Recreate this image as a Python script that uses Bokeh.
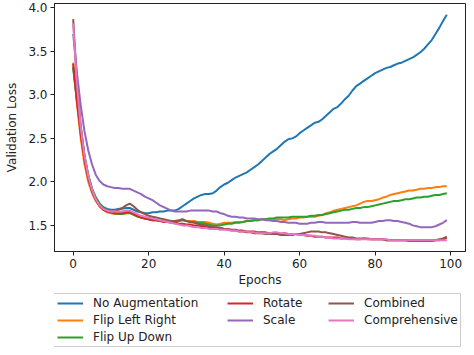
from bokeh.plotting import figure
from bokeh.layouts import column
from bokeh.models import Legend, LegendItem, FixedTicker, Range1d, NumeralTickFormatter
from bokeh.embed import file_html
from bokeh.resources import INLINE

epochs = list(range(100))

no_aug = [3.31, 2.92, 2.58, 2.28, 2.07, 1.92, 1.82, 1.75, 1.71, 1.69, 1.68,
          1.68, 1.69, 1.69, 1.70, 1.70, 1.68, 1.66, 1.65, 1.64, 1.64,
          1.65, 1.65, 1.66, 1.66, 1.67, 1.67, 1.67, 1.69, 1.72, 1.75,
          1.78, 1.81, 1.83, 1.85, 1.86, 1.86, 1.87, 1.90, 1.94, 1.97,
          1.99, 2.02, 2.05, 2.07, 2.09, 2.11, 2.14, 2.17, 2.20, 2.24,
          2.28, 2.32, 2.35, 2.38, 2.42, 2.46, 2.49, 2.50, 2.52, 2.56,
          2.59, 2.62, 2.65, 2.68, 2.69, 2.72, 2.76, 2.80, 2.84, 2.86,
          2.90, 2.95, 2.99, 3.05, 3.10, 3.13, 3.16, 3.19, 3.22, 3.25,
          3.27, 3.29, 3.31, 3.32, 3.34, 3.36, 3.37, 3.39, 3.41, 3.43,
          3.46, 3.49, 3.53, 3.58, 3.63, 3.70, 3.77, 3.85, 3.92]

flip_lr = [3.37, 2.90, 2.50, 2.20, 2.00, 1.87, 1.78, 1.72, 1.68, 1.65, 1.64,
           1.63, 1.63, 1.64, 1.64, 1.65, 1.63, 1.61, 1.59, 1.58, 1.57,
           1.57, 1.56, 1.56, 1.55, 1.55, 1.54, 1.54, 1.55, 1.57, 1.55,
           1.55, 1.55, 1.54, 1.54, 1.54, 1.53, 1.52, 1.51, 1.52, 1.53,
           1.53, 1.53, 1.54, 1.54, 1.54, 1.55, 1.55, 1.56, 1.56, 1.57,
           1.57, 1.56, 1.56, 1.57, 1.57, 1.56, 1.57, 1.58, 1.58, 1.59,
           1.59, 1.60, 1.60, 1.60, 1.61, 1.62, 1.64, 1.65, 1.67, 1.68,
           1.69, 1.70, 1.71, 1.72, 1.73, 1.75, 1.77, 1.78, 1.78, 1.79,
           1.80, 1.82, 1.83, 1.85, 1.86, 1.87, 1.88, 1.89, 1.90, 1.90,
           1.91, 1.92, 1.92, 1.93, 1.93, 1.94, 1.94, 1.95, 1.95]

flip_ud = [3.32, 2.95, 2.62, 2.30, 2.08, 1.92, 1.82, 1.75, 1.70, 1.67, 1.65,
           1.64, 1.63, 1.63, 1.64, 1.64, 1.62, 1.60, 1.59, 1.58, 1.57,
           1.56, 1.56, 1.55, 1.55, 1.54, 1.54, 1.54, 1.55, 1.56, 1.55,
           1.54, 1.54, 1.53, 1.53, 1.52, 1.51, 1.50, 1.50, 1.50, 1.51,
           1.52, 1.52, 1.53, 1.53, 1.54, 1.55, 1.55, 1.56, 1.56, 1.57,
           1.57, 1.58, 1.58, 1.59, 1.59, 1.59, 1.59, 1.60, 1.60, 1.60,
           1.60, 1.60, 1.61, 1.61, 1.62, 1.62, 1.63, 1.64, 1.65, 1.66,
           1.67, 1.68, 1.68, 1.69, 1.70, 1.70, 1.71, 1.71, 1.72, 1.73,
           1.74, 1.75, 1.76, 1.77, 1.78, 1.78, 1.79, 1.80, 1.80, 1.81,
           1.82, 1.82, 1.83, 1.83, 1.84, 1.85, 1.85, 1.86, 1.87]

rotate = [3.36, 2.93, 2.55, 2.25, 2.04, 1.89, 1.79, 1.72, 1.68, 1.66, 1.65,
          1.64, 1.64, 1.64, 1.65, 1.65, 1.63, 1.61, 1.59, 1.58, 1.57,
          1.56, 1.56, 1.55, 1.54, 1.54, 1.53, 1.53, 1.52, 1.52, 1.51,
          1.51, 1.50, 1.50, 1.49, 1.49, 1.48, 1.48, 1.47, 1.47, 1.46,
          1.46, 1.45, 1.45, 1.44, 1.44, 1.43, 1.43, 1.43, 1.42, 1.42,
          1.42, 1.41, 1.41, 1.40, 1.40, 1.41, 1.40, 1.39, 1.40, 1.39,
          1.39, 1.38, 1.38, 1.37, 1.37, 1.37, 1.36, 1.36, 1.36, 1.36,
          1.35, 1.35, 1.35, 1.35, 1.34, 1.34, 1.35, 1.34, 1.34, 1.34,
          1.34, 1.34, 1.33, 1.33, 1.33, 1.33, 1.33, 1.33, 1.32, 1.32,
          1.32, 1.32, 1.32, 1.32, 1.32, 1.33, 1.33, 1.34, 1.36]

scale = [3.70, 3.25, 2.88, 2.58, 2.36, 2.20, 2.08, 2.01, 1.97, 1.95, 1.94,
         1.93, 1.93, 1.92, 1.92, 1.92, 1.90, 1.88, 1.86, 1.83, 1.81,
         1.79, 1.76, 1.73, 1.71, 1.69, 1.67, 1.66, 1.66, 1.66, 1.66,
         1.67, 1.67, 1.67, 1.67, 1.67, 1.67, 1.66, 1.66, 1.64, 1.63,
         1.61, 1.60, 1.60, 1.59, 1.59, 1.58, 1.58, 1.58, 1.57, 1.57,
         1.56, 1.56, 1.55, 1.55, 1.54, 1.54, 1.53, 1.53, 1.53, 1.52,
         1.52, 1.52, 1.53, 1.53, 1.54, 1.54, 1.53, 1.53, 1.53, 1.53,
         1.53, 1.53, 1.53, 1.54, 1.54, 1.53, 1.53, 1.53, 1.53, 1.54,
         1.55, 1.55, 1.56, 1.56, 1.55, 1.55, 1.54, 1.53, 1.52, 1.50,
         1.49, 1.48, 1.48, 1.48, 1.48, 1.49, 1.51, 1.53, 1.56]

combined = [3.87, 3.15, 2.65, 2.30, 2.06, 1.90, 1.80, 1.73, 1.69, 1.67, 1.66,
            1.66, 1.68, 1.70, 1.73, 1.75, 1.72, 1.68, 1.65, 1.63, 1.61,
            1.60, 1.59, 1.58, 1.57, 1.56, 1.55, 1.55, 1.56, 1.57, 1.55,
            1.54, 1.53, 1.52, 1.51, 1.50, 1.49, 1.48, 1.48, 1.47, 1.46,
            1.45, 1.44, 1.44, 1.43, 1.43, 1.42, 1.42, 1.41, 1.41, 1.41,
            1.40, 1.40, 1.40, 1.40, 1.39, 1.39, 1.39, 1.40, 1.40, 1.40,
            1.41, 1.42, 1.43, 1.43, 1.43, 1.42, 1.42, 1.41, 1.40, 1.39,
            1.38, 1.37, 1.36, 1.36, 1.35, 1.35, 1.35, 1.35, 1.34, 1.34,
            1.34, 1.34, 1.33, 1.33, 1.33, 1.33, 1.33, 1.33, 1.33, 1.33,
            1.33, 1.33, 1.33, 1.33, 1.33, 1.33, 1.34, 1.35, 1.37]

comprehensive = [3.82, 3.12, 2.63, 2.30, 2.07, 1.91, 1.80, 1.73, 1.69, 1.67, 1.66,
                 1.66, 1.66, 1.66, 1.67, 1.67, 1.65, 1.63, 1.61, 1.60, 1.59,
                 1.58, 1.57, 1.56, 1.55, 1.54, 1.53, 1.52, 1.51, 1.50, 1.50,
                 1.49, 1.48, 1.48, 1.47, 1.47, 1.46, 1.46, 1.46, 1.45, 1.45,
                 1.45, 1.44, 1.44, 1.43, 1.43, 1.43, 1.42, 1.42, 1.41, 1.41,
                 1.41, 1.41, 1.42, 1.42, 1.41, 1.41, 1.40, 1.40, 1.40, 1.39,
                 1.39, 1.39, 1.38, 1.38, 1.37, 1.37, 1.36, 1.36, 1.35, 1.35,
                 1.35, 1.35, 1.34, 1.34, 1.34, 1.34, 1.34, 1.34, 1.34, 1.34,
                 1.34, 1.34, 1.34, 1.33, 1.33, 1.33, 1.33, 1.33, 1.33, 1.33,
                 1.33, 1.33, 1.33, 1.33, 1.33, 1.33, 1.33, 1.33, 1.33]

series_names = ["No Augmentation", "Flip Left Right", "Flip Up Down", "Rotate",
                "Scale", "Combined", "Comprehensive"]
series_values = [no_aug, flip_lr, flip_ud, rotate, scale, combined, comprehensive]
colors = ["#1f77b4", "#ff7f0e", "#2ca02c", "#d62728", "#9467bd", "#8c564b", "#e377c2"]
legend_columns = [[0, 1, 2], [3, 4], [5, 6]]

x_ticks = [0, 20, 40, 60, 80, 100]
y_ticks = [1.5, 2.0, 2.5, 3.0, 3.5, 4.0]

FONT = "DejaVu Sans"
TXT = "#222222"
LEFT, RIGHT = 54, 9

# ---- main plot ----
p_main = figure(width=474, height=290, output_backend="svg", toolbar_location=None,
                x_range=Range1d(-4.95, 103.95), y_range=Range1d(1.20, 4.05),
                min_border_left=LEFT, min_border_right=RIGHT, min_border_top=3,
                min_border_bottom=39)

for name, vals, c in zip(series_names, series_values, colors):
    p_main.line(epochs, vals, line_color=c, line_width=2.0)

p_main.xgrid.grid_line_color = None
p_main.ygrid.grid_line_color = None
p_main.outline_line_color = TXT
p_main.outline_line_width = 1

for ax in (p_main.xaxis[0], p_main.yaxis[0]):
    ax.major_label_text_font = FONT
    ax.major_label_text_font_size = "12px"
    ax.major_label_text_color = TXT
    ax.axis_label_text_font = FONT
    ax.axis_label_text_font_size = "12px"
    ax.axis_label_text_font_style = "normal"
    ax.axis_label_text_color = TXT
    ax.minor_tick_line_color = None
    ax.major_tick_in = 0
    ax.major_tick_out = 4
    ax.axis_line_color = TXT
    ax.major_tick_line_color = TXT

p_main.xaxis.ticker = FixedTicker(ticks=x_ticks)
p_main.yaxis.ticker = FixedTicker(ticks=y_ticks)
p_main.yaxis.formatter = NumeralTickFormatter(format="0.0")
p_main.xaxis.axis_label = "Epochs"
p_main.yaxis.axis_label = "Validation Loss"
p_main.xaxis.axis_label_standoff = 2
p_main.yaxis.axis_label_standoff = 6
p_main.xaxis.major_label_standoff = 3
p_main.yaxis.major_label_standoff = 3

# ---- legend strip (same side borders as main plot; x in page pixels) ----
p_leg = figure(width=474, height=65, output_backend="svg", toolbar_location=None,
               x_range=Range1d(LEFT, 474 - RIGHT), y_range=Range1d(0, 65),
               x_axis_location=None, y_axis_location=None,
               min_border_left=LEFT, min_border_right=RIGHT,
               min_border_top=0, min_border_bottom=0)
p_leg.grid.grid_line_color = None
p_leg.outline_line_color = None

p_leg.quad(left=[53], right=[460], bottom=[9], top=[62],
           fill_color="white", fill_alpha=0.8,
           line_color="#cccccc", line_width=1)

leg_renderers = []
for c in colors:
    leg_renderers.append(p_leg.line([-100, -99], [-100, -99], line_color=c, line_width=2.0))

col_x = [57, 227, 328]
for cx, idxs in zip(col_x, legend_columns):
    its = [LegendItem(label=series_names[i], renderers=[leg_renderers[i]]) for i in idxs]
    nrows = len(idxs)
    h = nrows * 14 + (nrows - 1) * 3
    y_bottom = 65 - 6 - h
    lg = Legend(items=its, orientation="vertical", location=(cx - LEFT, y_bottom),
                label_text_font=FONT, label_text_font_size="12px",
                label_text_color=TXT,
                glyph_width=26, glyph_height=14, label_height=14,
                spacing=3, padding=0, margin=0, label_standoff=10,
                border_line_color=None, background_fill_alpha=0)
    p_leg.add_layout(lg, "center")

layout = column(p_main, p_leg, spacing=0)

open("out.html", "w").write(file_html(layout, INLINE))
